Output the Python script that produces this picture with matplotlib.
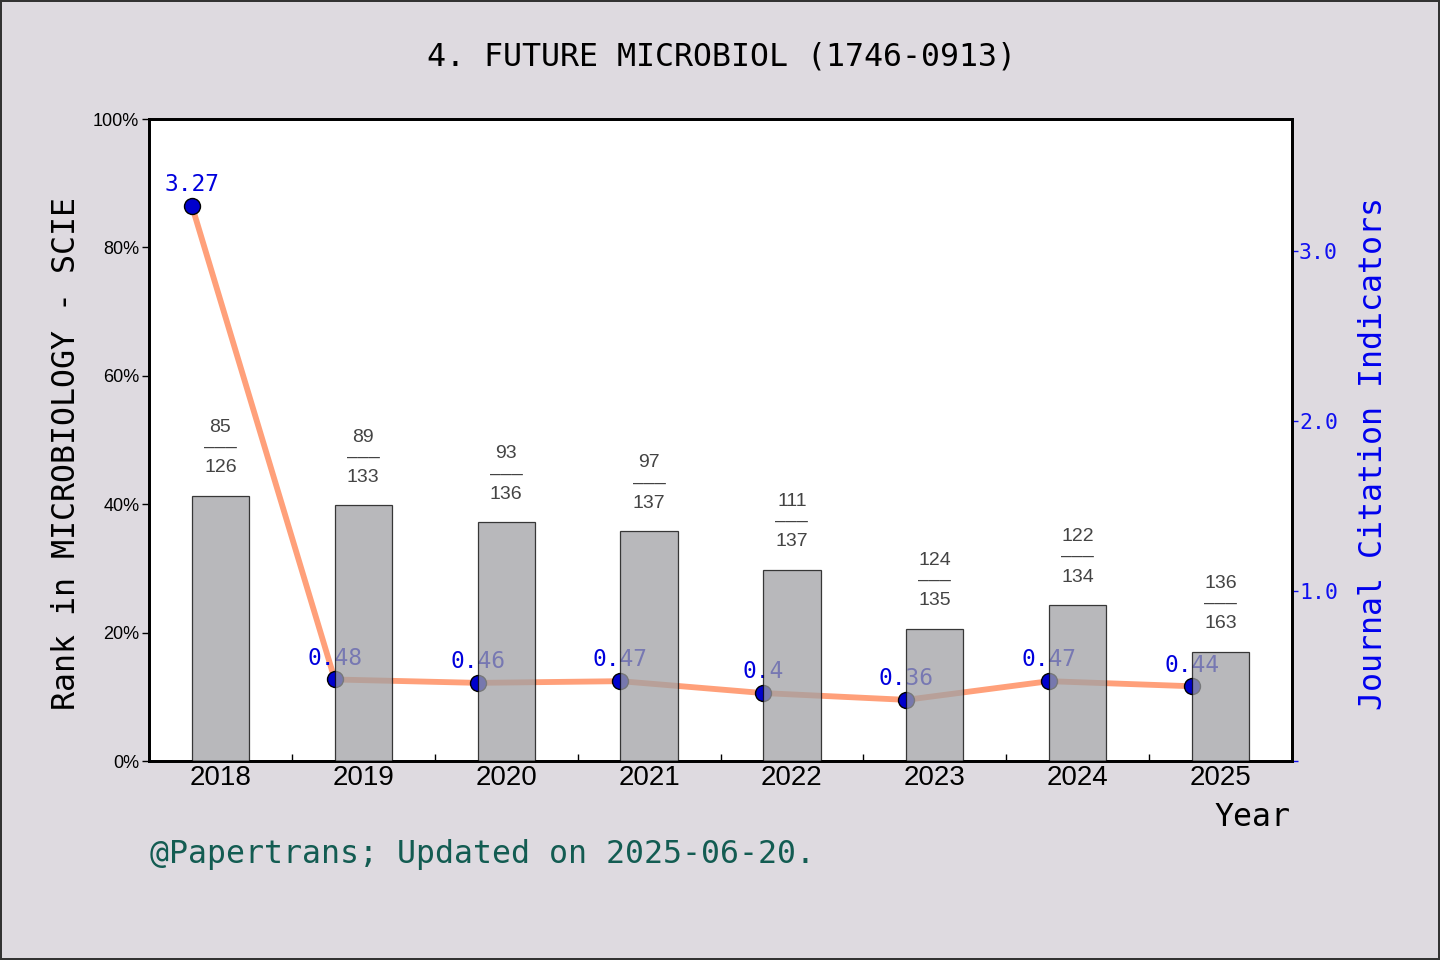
import matplotlib
matplotlib.use("Agg")
import matplotlib.pyplot as plt

# chart data
years = ['2018', '2019', '2020', '2021', '2022', '2023', '2024', '2025']
rank_pct = [41.3, 39.8, 37.2, 35.8, 29.8, 20.6, 24.3, 17.0]
ranks = [85, 89, 93, 97, 111, 124, 122, 136]
totals = [126, 133, 136, 137, 137, 135, 134, 163]
jci = [3.27, 0.48, 0.46, 0.47, 0.4, 0.36, 0.47, 0.44]
left_ticks = [0, 20, 40, 60, 80, 100]
right_ticks = [0, 1, 2, 3]

bg = '#dedae0'
mono = 'DejaVu Sans Mono'
sans = 'Liberation Sans'

fig = plt.figure(figsize=(14.4, 9.6), dpi=100, facecolor=bg)
fig.patch.set_edgecolor('#333333')
fig.patch.set_linewidth(1.5)

ax = fig.add_axes([149 / 1440, 1 - 761 / 960, 1143 / 1440, 642 / 960])
ax2 = ax.twinx()
# bars sit over the line, so the bar axes goes on top
ax.set_zorder(2)
ax2.set_zorder(1)
ax.patch.set_visible(False)
ax2.patch.set_visible(True)
ax2.patch.set_facecolor('white')

x = list(range(len(years)))
bw = 0.4

# JCI line, drawn at the left edge of each bar
xl = [i - bw / 2 for i in x]
ax2.plot(xl, jci, color='#ffa07a', lw=4.2, zorder=2)
ax2.plot(xl, jci, 'o', color='#0000cd', mec='black', mew=1, ms=11.5, zorder=3)
for xi, v in zip(xl, jci):
    ax2.annotate(f'{v:g}', (xi, v), xytext=(0, 7), textcoords='offset points',
                 ha='center', va='bottom', color='#0000dd', fontsize=16.5,
                 family=mono, zorder=4)

ax.bar(x, rank_pct, width=bw, color='#a0a1a4', alpha=0.75, edgecolor='black',
       linewidth=0.9, zorder=5)
for xi, h, r, t in zip(x, rank_pct, ranks, totals):
    ax.annotate(f'{r}\n\u2013\u2013\u2013\n{t}', (xi, h), xytext=(0, 14),
                textcoords='offset points', ha='center', va='bottom', color='#444444',
                fontsize=14, family=sans, linespacing=1.25, zorder=6)

ax.set_xlim(-0.5, 7.5)
ax.set_ylim(0, 100)
ax2.set_ylim(0, 3.78)

ax.set_xticks(x)
ax.set_xticklabels(years, fontsize=20, family=sans)
ax.tick_params(axis='x', length=0, pad=3)
ax.set_xticks([i + 0.5 for i in x[:-1]], minor=True)
ax.tick_params(axis='x', which='minor', direction='in', length=5, width=1)

ax.set_yticks(left_ticks)
ax.set_yticklabels([f'{t}%' for t in left_ticks], fontsize=13, family=sans)
ax.tick_params(axis='y', direction='out', length=5, width=1, pad=2)

ax2.set_yticks(right_ticks)
ax2.set_yticklabels(['' if t == 0 else f'{t:.1f}' for t in right_ticks],
                    fontsize=15.5, family=mono, color='#1010f0')
ax2.tick_params(axis='y', direction='out', length=4, width=1, colors='#1010f0', pad=1)

for a in (ax, ax2):
    for s in a.spines.values():
        s.set_linewidth(2)
        s.set_color('black')

fig.text(0.5007, 1 - 57 / 960, '4. FUTURE MICROBIOL (1746-0913)', ha='center', va='center',
         fontsize=22.8, family=mono, color='black')
fig.text(67 / 1440, 1 - 454 / 960, 'Rank in MICROBIOLOGY - SCIE', rotation=90,
         ha='center', va='center', fontsize=22.8, family=mono, color='black')
fig.text(1374 / 1440, 1 - 453 / 960, 'Journal Citation Indicators', rotation=90,
         ha='center', va='center', fontsize=22.8, family=mono, color='#0000ee')
fig.text(1290 / 1440, 1 - 817 / 960, 'Year', ha='right', va='center',
         fontsize=22.8, family=mono, color='black')
fig.text(150 / 1440, 1 - 855 / 960, '@Papertrans; Updated on 2025-06-20.', ha='left',
         va='center', fontsize=22.8, family=mono, color='#135c52')

fig.savefig('out.png', dpi=100, facecolor=bg, edgecolor=fig.get_edgecolor())
